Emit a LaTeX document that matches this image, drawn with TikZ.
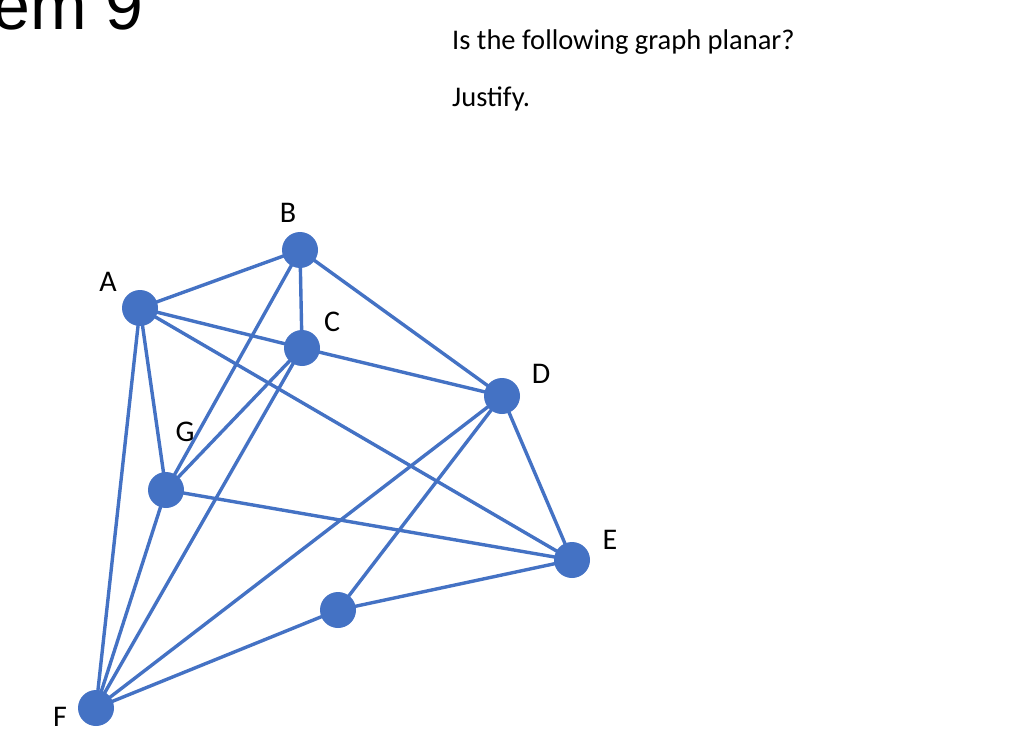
\documentclass[tikz,border=0pt]{standalone}
\usepackage{fontspec}
\setmainfont{Carlito}
\newfontfamily\arialf{Liberation Sans}
\begin{document}
\begin{tikzpicture}[x=1pt,y=-1pt,
  edge/.style={draw=nodeblue,line width=3.4pt},
  lbl/.style={font=\fontsize{30}{34}\selectfont,inner sep=0pt}]
\definecolor{nodeblue}{HTML}{4472C4}
\useasboundingbox (0,0) rectangle (1024,751);
\node[anchor=base west,inner sep=0pt,font=\arialf\fontsize{68}{76}\selectfont] (t) at (-8,30) {em 9};
\node[anchor=base west,inner sep=0pt,font=\fontsize{28.5}{32}\selectfont] (q) at (452,50) {Is the following graph planar?};
\node[anchor=base west,inner sep=0pt,font=\fontsize{28.5}{32}\selectfont] (j) at (452,107) {Justify.};
\foreach \n/\p in {A/{140,308},B/{300,250},C/{302,348},D/{502,396},E/{572,560},F/{96,708},G/{166,490},H/{338,610}}
  \coordinate (\n) at (\p);
\node[lbl] (la) at (108,282) {A};
\node[lbl] (lb) at (288,213) {B};
\node[lbl] (lc) at (332,322) {C};
\node[lbl] (ld) at (541,374) {D};
\node[lbl] (le) at (610,540) {E};
\node[lbl] (lf) at (60,717) {F};
\node[lbl] (lg) at (185,432) {G};
\foreach \u/\v in {A/B,A/C,A/E,A/G,A/F,B/C,B/D,B/G,C/D,C/G,C/F,D/E,D/F,D/H,G/E,G/F,H/E,H/F}
  \path[edge] (\u) -- (\v);
\foreach \n in {A,B,C,D,E,F,G,H}
  \fill[nodeblue] (\n) circle (18);
\end{tikzpicture}
\end{document}
